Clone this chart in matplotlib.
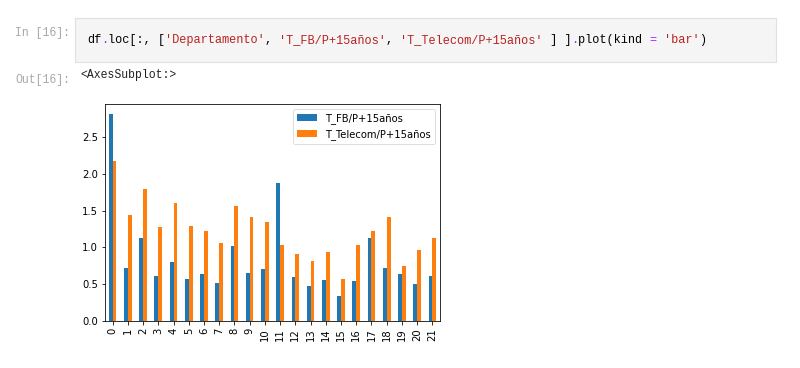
import pandas as pd
import matplotlib.pyplot as plt
from matplotlib.patches import Rectangle

# datos
departamentos = list(range(22))
t_fb = [2.81, 0.72, 1.13, 0.61, 0.80, 0.57, 0.64, 0.52, 1.02, 0.65, 0.71,
        1.87, 0.60, 0.48, 0.56, 0.34, 0.54, 1.13, 0.72, 0.64, 0.50, 0.61]
t_telecom = [2.17, 1.44, 1.79, 1.28, 1.61, 1.29, 1.22, 1.06, 1.57, 1.42, 1.34,
             1.04, 0.91, 0.81, 0.94, 0.57, 1.03, 1.22, 1.42, 0.75, 0.96, 1.13]

df = pd.DataFrame({'T_FB/P+15años': t_fb, 'T_Telecom/P+15años': t_telecom},
                  index=departamentos)

W, H = 800, 368
fig = plt.figure(figsize=(W / 100, H / 100), dpi=100)
s = 0.72  # notebook figures are drawn at 72 dpi

# celda de codigo
bg = fig.add_axes([0, 0, 1, 1])
bg.set_xlim(0, W)
bg.set_ylim(H, 0)
bg.axis('off')
bg.add_patch(Rectangle((75, 17.5), 701, 44.5, facecolor='#f5f5f5',
                       edgecolor='#e0e0e0', lw=0.8))

mono = 'Liberation Mono'
cw = 7.12
partes = [("df", 'black'), (".", '#aa22ff'), ("loc[:, [", 'black'),
          ("'Departamento'", '#ba2121'), (", ", 'black'),
          ("'T_FB/P+15años'", '#ba2121'), (", ", 'black'),
          ("'T_Telecom/P+15años'", '#ba2121'), (" ] ]", 'black'),
          (".", '#aa22ff'), ("plot(kind ", 'black'), ("=", '#aa22ff'),
          (" ", 'black'), ("'bar'", '#ba2121'), (")", 'black')]
n = 0
for txt, col in partes:
    bg.text(87 + n * cw, 40, txt, family=mono, fontsize=8.55, color=col,
            va='center', ha='left')
    n += len(txt)

bg.text(70, 33, "In [16]:", family=mono, fontsize=8.3, color='#a8a8a8',
        va='center', ha='right')
bg.text(70, 80, "Out[16]:", family=mono, fontsize=8.3, color='#a8a8a8',
        va='center', ha='right')
bg.text(80, 75, "<AxesSubplot:>", family=mono, fontsize=8.3, color='#222222',
        va='center', ha='left')

# grafico
ax = fig.add_axes([105 / W, (H - 321) / H, 335 / W, 217 / H])
df.plot(kind='bar', ax=ax)
for sp in ax.spines.values():
    sp.set_linewidth(0.8 * s)
ax.tick_params(labelsize=10 * s, width=0.8 * s, length=3.5 * s, pad=3.5 * s)
ax.legend(fontsize=10 * s, loc='upper right', frameon=True,
          borderpad=0.4, handlelength=2.0)
ax.legend_.get_frame().set_linewidth(0.8 * s)

fig.savefig('out.png', dpi=100)
